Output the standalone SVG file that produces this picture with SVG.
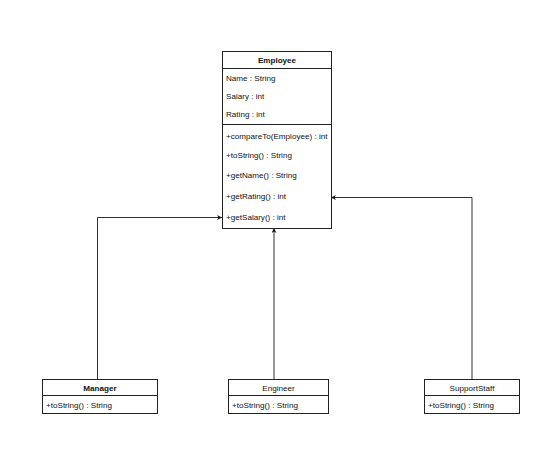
<svg xmlns="http://www.w3.org/2000/svg" width="556" height="456" viewBox="0 0 556 456">
<style>
.box{fill:#fff;stroke:#222;stroke-width:1}
.sep{stroke:#222;stroke-width:1}
.t{font-family:"Liberation Sans",Arial,sans-serif;font-size:8.1px;fill:#111}
.b{font-weight:bold}
.edge{fill:none;stroke:#333;stroke-width:1}
</style>
<defs>
<marker id="arr" viewBox="0 0 10 10" refX="10" refY="5" markerWidth="5" markerHeight="5" orient="auto" markerUnits="userSpaceOnUse">
<path d="M0,0 L10,5 L0,10 L3,5 Z" fill="#111"/>
</marker>
</defs>
<rect width="556" height="456" fill="#fff"/>
<g id="connectors">
<path class="edge" d="M97.5,379 V217.5 H222" marker-end="url(#arr)"/>
<path class="edge" d="M274,379 V228" marker-end="url(#arr)"/>
<path class="edge" d="M472,379 V197.5 H331" marker-end="url(#arr)"/>
</g>
<g id="employee">
<rect class="box" x="222.5" y="51.5" width="109" height="177"/>
<line class="sep" x1="222.5" y1="68.5" x2="331.5" y2="68.5"/>
<line class="sep" x1="222.5" y1="124.5" x2="331.5" y2="124.5"/>
<text class="t b" x="277" y="63" text-anchor="middle">Employee</text>
<text class="t" x="226" y="81">Name : String</text>
<text class="t" x="226" y="99">Salary : int</text>
<text class="t" x="226" y="117">Rating : int</text>
<text class="t" x="226" y="139">+compareTo(Employee) : int</text>
<text class="t" x="226" y="158">+toString() : String</text>
<text class="t" x="226" y="178">+getName() : String</text>
<text class="t" x="226" y="199">+getRating() : int</text>
<text class="t" x="226" y="220">+getSalary() : int</text>
</g>
<g id="manager">
<rect class="box" x="42.5" y="379.5" width="115" height="34"/>
<line class="sep" x1="42.5" y1="395.5" x2="157.5" y2="395.5"/>
<text class="t b" x="100" y="391" text-anchor="middle">Manager</text>
<text class="t" x="46" y="408">+toString() : String</text>
</g>
<g id="engineer">
<rect class="box" x="228.5" y="379.5" width="100" height="34"/>
<line class="sep" x1="228.5" y1="395.5" x2="328.5" y2="395.5"/>
<text class="t" x="278.5" y="391" text-anchor="middle">Engineer</text>
<text class="t" x="232" y="408">+toString() : String</text>
</g>
<g id="supportstaff">
<rect class="box" x="424.5" y="379.5" width="95" height="34"/>
<line class="sep" x1="424.5" y1="395.5" x2="519.5" y2="395.5"/>
<text class="t" x="472" y="391" text-anchor="middle">SupportStaff</text>
<text class="t" x="428" y="408">+toString() : String</text>
</g>
</svg>
